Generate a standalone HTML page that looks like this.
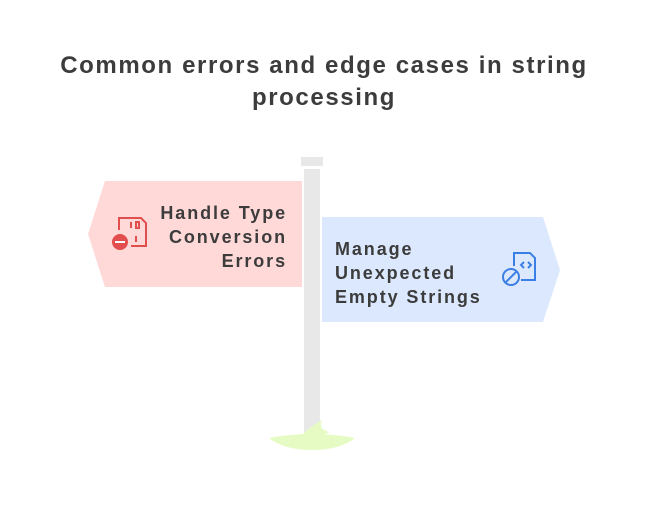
<!DOCTYPE html>
<html><head><style>
body{margin:0;background:#fff;width:648px;height:516px;overflow:hidden;font-family:"Liberation Sans",sans-serif;}
.t{position:absolute;left:0;width:648px;text-align:center;top:50px;font-size:24px;font-weight:bold;color:#3c3c3c;line-height:32px;letter-spacing:1.6px}
.l{position:absolute;font-size:18px;font-weight:bold;color:#3c3c3c;line-height:24px;letter-spacing:1.9px}
</style></head><body>
<div class="t">Common errors and edge cases in string<br>processing</div>
<svg width="648" height="516" style="position:absolute;left:0;top:0">
<rect x="301" y="157" width="22" height="9" fill="#e8e8e8"/>
<rect x="304" y="169" width="16" height="268" fill="#e8e8e8"/>
<path d="M269 438 Q312 430 355 438 Q340 450 312 450 Q284 450 269 438Z" fill="#e6fbc4"/>
<path d="M302 435 Q312 425 322 420 Q318 430 330 432 Q320 436 315 440Z" fill="#e6fbc4"/>
<polygon points="105,181 302,181 302,287 105,287 88,234" fill="#ffd9d8"/>
<polygon points="322,217 543,217 560,270 543,322 322,322" fill="#dce8fd"/>
<g stroke="#e24e4e" stroke-width="2" fill="none">
<path d="M119 230 V218 H141 L146 223 V246 H131"/>
<path d="M131 222 v6 M136 222 h3 v6 h-3z M136 236 v6"/>
</g>
<circle cx="120" cy="242" r="8" fill="#e24e4e"/>
<rect x="115" y="241" width="10" height="2" fill="#fff"/>
<g stroke="#3b7fe6" stroke-width="2" fill="none">
<path d="M514 266 V253 H530 L535 258 V280 H521"/>
<path d="M524 262 l-3 3 3 3 M528 262 l3 3 -3 3"/>
<circle cx="511" cy="277" r="8"/>
<path d="M506 282 L516 272"/>
</g>
</svg>
<div class="l" style="right:361px;top:201px;text-align:right">Handle Type<br>Conversion<br>Errors</div>
<div class="l" style="left:335px;top:237px">Manage<br>Unexpected<br>Empty Strings</div>
</body></html>
